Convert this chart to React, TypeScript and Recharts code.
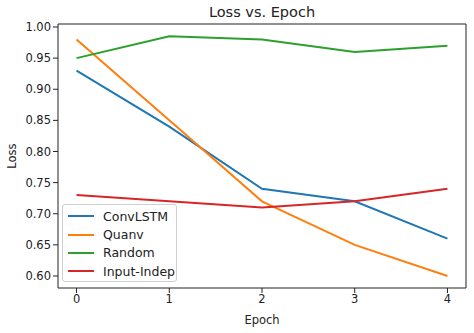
import { Line, LineChart, ReferenceArea, XAxis, YAxis } from "recharts";

const epochs = [0, 1, 2, 3, 4];
const convLSTM = [0.93, 0.84, 0.74, 0.72, 0.66];
const quanv = [0.98, 0.85, 0.72, 0.65, 0.6];
const random = [0.95, 0.985, 0.98, 0.96, 0.97];
const inputIndep = [0.73, 0.72, 0.71, 0.72, 0.74];
const yTicks = [0.6, 0.65, 0.7, 0.75, 0.8, 0.85, 0.9, 0.95, 1.0];

const X_MIN = -0.2;
const X_MAX = 4.2;
const Y_MIN = 0.5807;
const Y_MAX = 1.0048;
const FONT = "'DejaVu Sans', sans-serif";

const data = epochs.map((e, i) => ({
  epoch: e,
  ConvLSTM: convLSTM[i],
  Quanv: quanv[i],
  Random: random[i],
  "Input-Indep": inputIndep[i],
}));

const SERIES = [
  { key: "ConvLSTM", color: "#1f77b4" },
  { key: "Quanv", color: "#ff7f0e" },
  { key: "Random", color: "#2ca02c" },
  { key: "Input-Indep", color: "#d62728" },
];

function LegendBox() {
  return (
    <div
      style={{
        position: "absolute",
        left: 62,
        top: 204,
        width: 115,
        height: 78,
        boxSizing: "border-box",
        border: "1px solid #d0d0d0",
        borderRadius: 3,
        background: "rgba(255,255,255,0.85)",
        padding: "2px 0 0 5px",
        fontFamily: FONT,
        fontSize: 12.5,
        color: "#222",
      }}
    >
      {SERIES.map((s) => (
        <div key={s.key} style={{ display: "flex", alignItems: "center", height: 18.4, whiteSpace: "nowrap" }}>
          <span style={{ width: 26, height: 2, background: s.color, marginRight: 9, flexShrink: 0 }} />
          <span>{s.key}</span>
        </div>
      ))}
    </div>
  );
}

export default function App() {
  return (
    <div style={{ position: "absolute", left: 0, top: 0, width: 474, height: 333, background: "#fff" }}>
      <LineChart width={474} height={333} data={data} margin={{ top: 24, right: 8, bottom: 22, left: 0 }}>
        <text x={262} y={17} textAnchor="middle" fontFamily={FONT} fontSize={14.5} fill="#222">
          Loss vs. Epoch
        </text>
        <text
          x={16}
          y={156}
          textAnchor="middle"
          fontFamily={FONT}
          fontSize={11.5}
          fill="#222"
          transform="rotate(-90 16 156)"
        >
          Loss
        </text>
        <text x={262} y={324} textAnchor="middle" fontFamily={FONT} fontSize={11.5} fill="#222">
          Epoch
        </text>
        <XAxis
          dataKey="epoch"
          type="number"
          domain={[X_MIN, X_MAX]}
          ticks={epochs}
          allowDataOverflow
          axisLine={false}
          tickSize={5}
          tickLine={{ stroke: "#222" }}
          tick={{ fontFamily: FONT, fontSize: 11.5, fill: "#222" }}
          height={23}
        />
        <YAxis
          type="number"
          domain={[Y_MIN, Y_MAX]}
          ticks={yTicks}
          allowDataOverflow
          axisLine={false}
          tickSize={5}
          tickLine={{ stroke: "#222" }}
          tick={{ fontFamily: FONT, fontSize: 11.5, fill: "#222" }}
          tickFormatter={(v: number) => v.toFixed(2)}
          width={58}
        />
        <ReferenceArea x1={X_MIN} x2={X_MAX} y1={Y_MIN} y2={Y_MAX} fill="none" stroke="#222" strokeWidth={1} ifOverflow="visible" />
        {SERIES.map((s) => (
          <Line
            key={s.key}
            dataKey={s.key}
            stroke={s.color}
            strokeWidth={2}
            dot={false}
            activeDot={false}
            isAnimationActive={false}
          />
        ))}
      </LineChart>
      <LegendBox />
    </div>
  );
}
